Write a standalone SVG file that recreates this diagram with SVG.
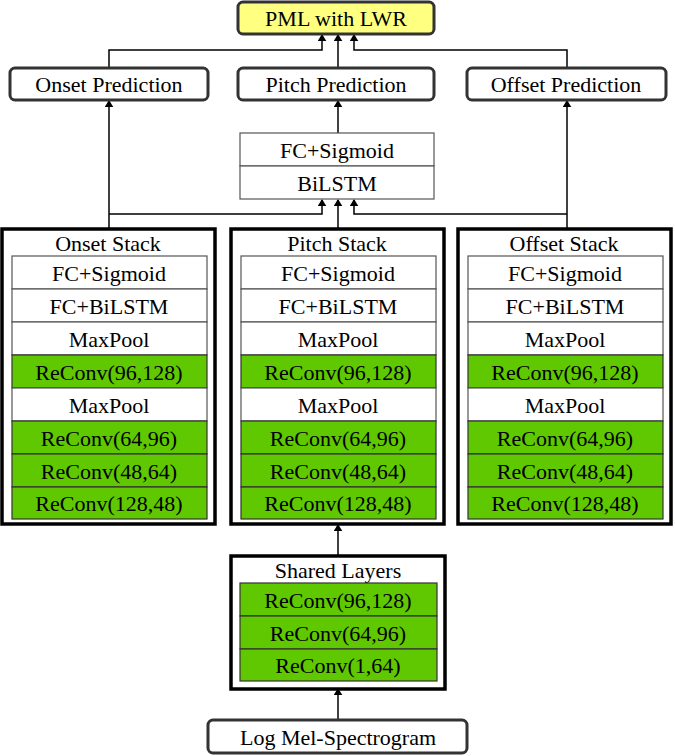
<svg xmlns="http://www.w3.org/2000/svg" width="675" height="756" viewBox="0 0 675 756">
<style>
text{font-family:"Liberation Serif","Times New Roman",serif;font-size:22px;text-anchor:middle;fill:#000}
.r{fill:#fff;stroke:#333;stroke-width:3}
.s{fill:#fff;stroke:#000;stroke-width:3.5}
.w{fill:#fff;stroke:#555;stroke-width:1.2}
.g{fill:#5fc800;stroke:#333;stroke-width:1.2}
.c{fill:none;stroke:#000;stroke-width:1.5;marker-end:url(#a)}
</style>
<defs><marker id="a" viewBox="0 0 8 10" refX="7" refY="5" markerWidth="5" markerHeight="6" orient="auto"><path d="M0,0L8,5L0,10z"/></marker></defs>
<g id="connectors">
<path class="c" d="M109,68V50H322V35"/>
<path class="c" d="M338,68V35"/>
<path class="c" d="M567,68V50H354V35"/>
<path class="c" d="M338,133V101"/>
<path class="c" d="M109,229V101"/>
<path class="c" d="M567,229V101"/>
<path class="c" d="M109,214H322V200"/>
<path class="c" d="M338,229V200"/>
<path class="c" d="M567,214H354V200"/>
<path class="c" d="M338,556V525"/>
<path class="c" d="M338,720V689"/>
</g>
<g id="pml"><rect x="238" y="2" width="196" height="32" rx="5" class="r" style="fill:#ffff80"/><text x="336" y="26">PML with LWR</text></g>
<g id="onsetPred"><rect x="10" y="68" width="198" height="32" rx="5" class="r"/><text x="109" y="92">Onset Prediction</text></g>
<g id="pitchPred"><rect x="238" y="68" width="196" height="32" rx="5" class="r"/><text x="336" y="92">Pitch Prediction</text></g>
<g id="offsetPred"><rect x="467" y="68" width="199" height="32" rx="5" class="r"/><text x="566" y="92">Offset Prediction</text></g>
<g id="head">
<rect x="240" y="133" width="194" height="33" class="w"/><text x="337" y="158">FC+Sigmoid</text>
<rect x="240" y="166" width="194" height="33" class="w"/><text x="337" y="191">BiLSTM</text>
</g>
<g id="onsetStack" transform="translate(0,0)">
<rect x="2" y="229" width="213" height="295" class="s"/><text x="108" y="251">Onset Stack</text>
<rect x="12" y="256" width="195" height="33" class="w"/><text x="109" y="281">FC+Sigmoid</text>
<rect x="12" y="289" width="195" height="33" class="w"/><text x="109" y="314">FC+BiLSTM</text>
<rect x="12" y="322" width="195" height="33" class="w"/><text x="109" y="347">MaxPool</text>
<rect x="12" y="355" width="195" height="33" class="g"/><text x="109" y="380">ReConv(96,128)</text>
<rect x="12" y="388" width="195" height="33" class="w"/><text x="109" y="413">MaxPool</text>
<rect x="12" y="421" width="195" height="33" class="g"/><text x="109" y="446">ReConv(64,96)</text>
<rect x="12" y="454" width="195" height="33" class="g"/><text x="109" y="479">ReConv(48,64)</text>
<rect x="12" y="487" width="195" height="32" class="g"/><text x="109" y="511">ReConv(128,48)</text>
</g>
<g id="pitchStack" transform="translate(229,0)">
<rect x="2" y="229" width="213" height="295" class="s"/><text x="108" y="251">Pitch Stack</text>
<rect x="12" y="256" width="195" height="33" class="w"/><text x="109" y="281">FC+Sigmoid</text>
<rect x="12" y="289" width="195" height="33" class="w"/><text x="109" y="314">FC+BiLSTM</text>
<rect x="12" y="322" width="195" height="33" class="w"/><text x="109" y="347">MaxPool</text>
<rect x="12" y="355" width="195" height="33" class="g"/><text x="109" y="380">ReConv(96,128)</text>
<rect x="12" y="388" width="195" height="33" class="w"/><text x="109" y="413">MaxPool</text>
<rect x="12" y="421" width="195" height="33" class="g"/><text x="109" y="446">ReConv(64,96)</text>
<rect x="12" y="454" width="195" height="33" class="g"/><text x="109" y="479">ReConv(48,64)</text>
<rect x="12" y="487" width="195" height="32" class="g"/><text x="109" y="511">ReConv(128,48)</text>
</g>
<g id="offsetStack" transform="translate(456,0)">
<rect x="2" y="229" width="213" height="295" class="s"/><text x="108" y="251">Offset Stack</text>
<rect x="12" y="256" width="195" height="33" class="w"/><text x="109" y="281">FC+Sigmoid</text>
<rect x="12" y="289" width="195" height="33" class="w"/><text x="109" y="314">FC+BiLSTM</text>
<rect x="12" y="322" width="195" height="33" class="w"/><text x="109" y="347">MaxPool</text>
<rect x="12" y="355" width="195" height="33" class="g"/><text x="109" y="380">ReConv(96,128)</text>
<rect x="12" y="388" width="195" height="33" class="w"/><text x="109" y="413">MaxPool</text>
<rect x="12" y="421" width="195" height="33" class="g"/><text x="109" y="446">ReConv(64,96)</text>
<rect x="12" y="454" width="195" height="33" class="g"/><text x="109" y="479">ReConv(48,64)</text>
<rect x="12" y="487" width="195" height="32" class="g"/><text x="109" y="511">ReConv(128,48)</text>
</g>
<g id="shared">
<rect x="231" y="556" width="214" height="133" class="s"/><text x="338" y="578">Shared Layers</text>
<rect x="240" y="583" width="197" height="33" class="g"/><text x="338" y="608">ReConv(96,128)</text>
<rect x="240" y="616" width="197" height="33" class="g"/><text x="338" y="641">ReConv(64,96)</text>
<rect x="240" y="649" width="197" height="32" class="g"/><text x="338" y="673">ReConv(1,64)</text>
</g>
<g id="logmel"><rect x="208" y="720" width="259" height="33" rx="5" class="r"/><text x="338" y="745">Log Mel-Spectrogram</text></g>
</svg>
